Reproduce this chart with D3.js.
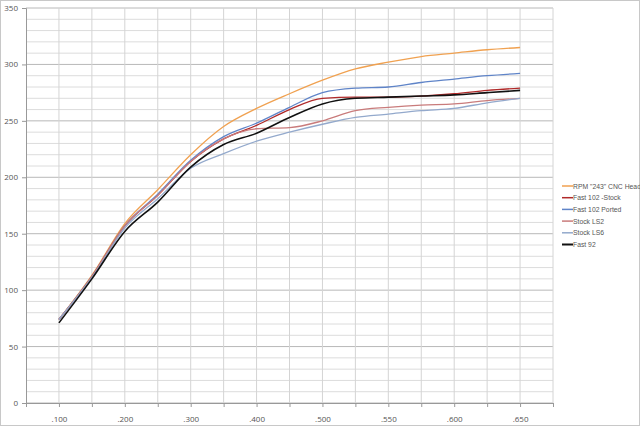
<!DOCTYPE html><html><head><meta charset="utf-8">
<script src="https://cdn.jsdelivr.net/npm/d3@7"></script>
<style>body{margin:0;background:#fff}</style></head><body>
<svg id="c" width="640" height="426"></svg>
<script>
const categories=["",".100",".150",".200",".250",".300",".350",".400",".450",".500",".525",".550",".575",".600",".625",".650",""];
const tickLabels=[".100",".200",".300",".400",".500",".550",".600",".650"];
const seriesNames=["RPM \"243\" CNC Head","Fast 102 -Stock","Fast 102 Ported","Stock LS2","Stock LS6","Fast 92"];
const colors=["#f0a150","#b02a2a","#5f84c8","#c97b7b","#93a9cc","#111111"];
const rpm243=[null,74,113,159,189,220,245,261,274,286,296,302,307,310,313,315];
const fast102s=[null,74,112,157,184,214,234,246,260,270,271,271,272,274,277,279];
const fast102p=[null,74,112,157,185,215,236,248,262,275,279,280,284,287,290,292];
const ls2=[null,74,112,157,184,214,234,243,244,250,259,262,264,265,268,270];
const ls6=[null,74,111,155,181,208,221,232,240,247,253,256,259,261,266,270];
const fast92=[null,71,110,152,178,209,229,239,253,265,270,271,272,273,275,277];
const series=[rpm243,fast102s,fast102p,ls2,ls6,fast92];
const svg=d3.select("#c");
svg.append("rect").attr("x",0.5).attr("y",0.5).attr("width",639).attr("height",425).attr("fill","#fff").attr("stroke","#c8c8c8");
const x=d3.scalePoint().domain(d3.range(categories.length)).range([26,553]);
const y=d3.scaleLinear().domain([0,350]).range([403,8]);
const g=svg.append("g");
d3.range(0,351,10).forEach(v=>{g.append("line").attr("x1",26).attr("x2",553).attr("y1",y(v)).attr("y2",y(v))
 .attr("stroke",v%50===0?"#b8b8b8":"#dcdcdc").attr("stroke-width",1);});
d3.range(1,categories.length).forEach(i=>{g.append("line").attr("x1",x(i)).attr("x2",x(i)).attr("y1",8).attr("y2",403).attr("stroke","#d4d4d4");});
const ya=svg.append("g").attr("transform","translate(26,0)").call(d3.axisLeft(y).tickValues(d3.range(0,351,50)).tickSize(4).tickPadding(4));
const xa=svg.append("g").attr("transform","translate(0,403)").call(d3.axisBottom(x).tickValues(d3.range(categories.length)).tickSize(4).tickFormat(i=>tickLabels.includes(categories[i])&&i%2===1?categories[i]:"").tickPadding(9));
[ya,xa].forEach(a=>{a.selectAll("path,line").attr("stroke","#999");a.selectAll("text").attr("fill","#555").attr("font-family","Open Sans, sans-serif").attr("font-size",8);});
const line=d3.line().defined(d=>d!=null).x((d,i)=>x(i)).y(d=>y(d)).curve(d3.curveMonotoneX);
series.forEach((s,k)=>svg.append("path").attr("d",line(s)).attr("fill","none").attr("stroke",colors[k]).attr("stroke-width",k===5?1.6:1.3));
seriesNames.forEach((n,k)=>{const yy=186+k*11.7;
 svg.append("line").attr("x1",562).attr("x2",573).attr("y1",yy).attr("y2",yy).attr("stroke",colors[k]).attr("stroke-width",k===5?2:1.5);
 svg.append("text").attr("x",573).attr("y",yy+2.5).text(n).attr("font-family","Liberation Sans, sans-serif").attr("font-size",6.8).attr("fill","#555");});
</script></body></html>
